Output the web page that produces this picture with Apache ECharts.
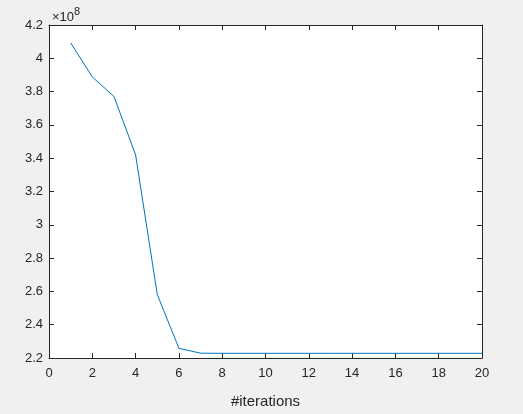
<!DOCTYPE html>
<html>
<head>
<meta charset="utf-8">
<style>
	html, body { margin: 0; padding: 0; background: #f0f0f0; }
	#main { width: 523px; height: 414px; }
</style>
<script src="https://cdn.jsdelivr.net/npm/echarts@6/dist/echarts.min.js"></script>
</head>
<body>
<div id="main"></div>
<script>
	// iteration number
	var iterations = [1, 2, 3, 4, 5, 6, 7, 8, 9, 10, 11, 12, 13, 14, 15, 16, 17, 18, 19, 20];
	// cost, in units of 1e8
	var cost = [4.093, 3.888, 3.771, 3.42, 2.582, 2.258, 2.229, 2.228, 2.228, 2.228,
		2.228, 2.228, 2.228, 2.228, 2.228, 2.228, 2.228, 2.228, 2.228, 2.228];

	var xTicks = { min: 0, max: 20, interval: 2 };
	var yTicks = { min: 2.2, max: 4.2, interval: 0.2 };

	var ink = "#262626";
	var font = "Liberation Sans, Arial, sans-serif";

	var points = iterations.map(function(it, i) {
		return [it, cost[i]];
	});

	/*
	 * axis with box line and inward ticks
	 */
	function axisBase(extra) {
		var a = {
			type: "value",
			axisLine: { show: true, onZero: false, lineStyle: { color: ink, width: 1 } },
			axisTick: { show: true, inside: true, length: 5, lineStyle: { color: ink } },
			splitLine: { show: false },
			axisLabel: { show: false }
		};
		for (var k in extra) a[k] = extra[k];
		return a;
	}

	var chart = echarts.init(document.getElementById("main"));

	chart.setOption({
		backgroundColor: "#f0f0f0",
		animation: false,
		grid: {
			left: 49, top: 25, width: 433, height: 342,
			show: true, backgroundColor: "#fff", borderWidth: 0
		},
		xAxis: [axisBase({
			position: "bottom",
			min: xTicks.min, max: xTicks.max, interval: xTicks.interval,
			name: "#iterations",
			nameLocation: "middle",
			nameGap: 36,
			nameTextStyle: { color: ink, fontSize: 15, fontFamily: font },
			axisLabel: { show: true, color: ink, fontSize: 13, fontFamily: font, margin: 9 }
		}), axisBase({
			position: "top",
			min: xTicks.min, max: xTicks.max, interval: xTicks.interval
		})],
		yAxis: [axisBase({
			position: "left",
			min: yTicks.min, max: yTicks.max, interval: yTicks.interval,
			axisLabel: {
				show: true, color: ink, fontSize: 13, fontFamily: font, margin: 6,
				formatter: function(v) { return +v.toFixed(1) + ""; }
			}
		}), axisBase({
			position: "right",
			min: yTicks.min, max: yTicks.max, interval: yTicks.interval
		})],
		graphic: [{
			type: "text",
			left: 52, top: 6,
			style: {
				text: "{a|×10}{b|8}",
				rich: {
					a: { fontSize: 13, fontFamily: font, fill: ink, padding: [5, 0, 0, 0] },
					b: { fontSize: 11, fontFamily: font, fill: ink, verticalAlign: "top" }
				}
			}
		}],
		series: [{
			type: "line",
			data: points,
			showSymbol: false,
			lineStyle: { color: "#0072bd", width: 1 },
			itemStyle: { color: "#0072bd" }
		}]
	});
</script>
</body>
</html>
